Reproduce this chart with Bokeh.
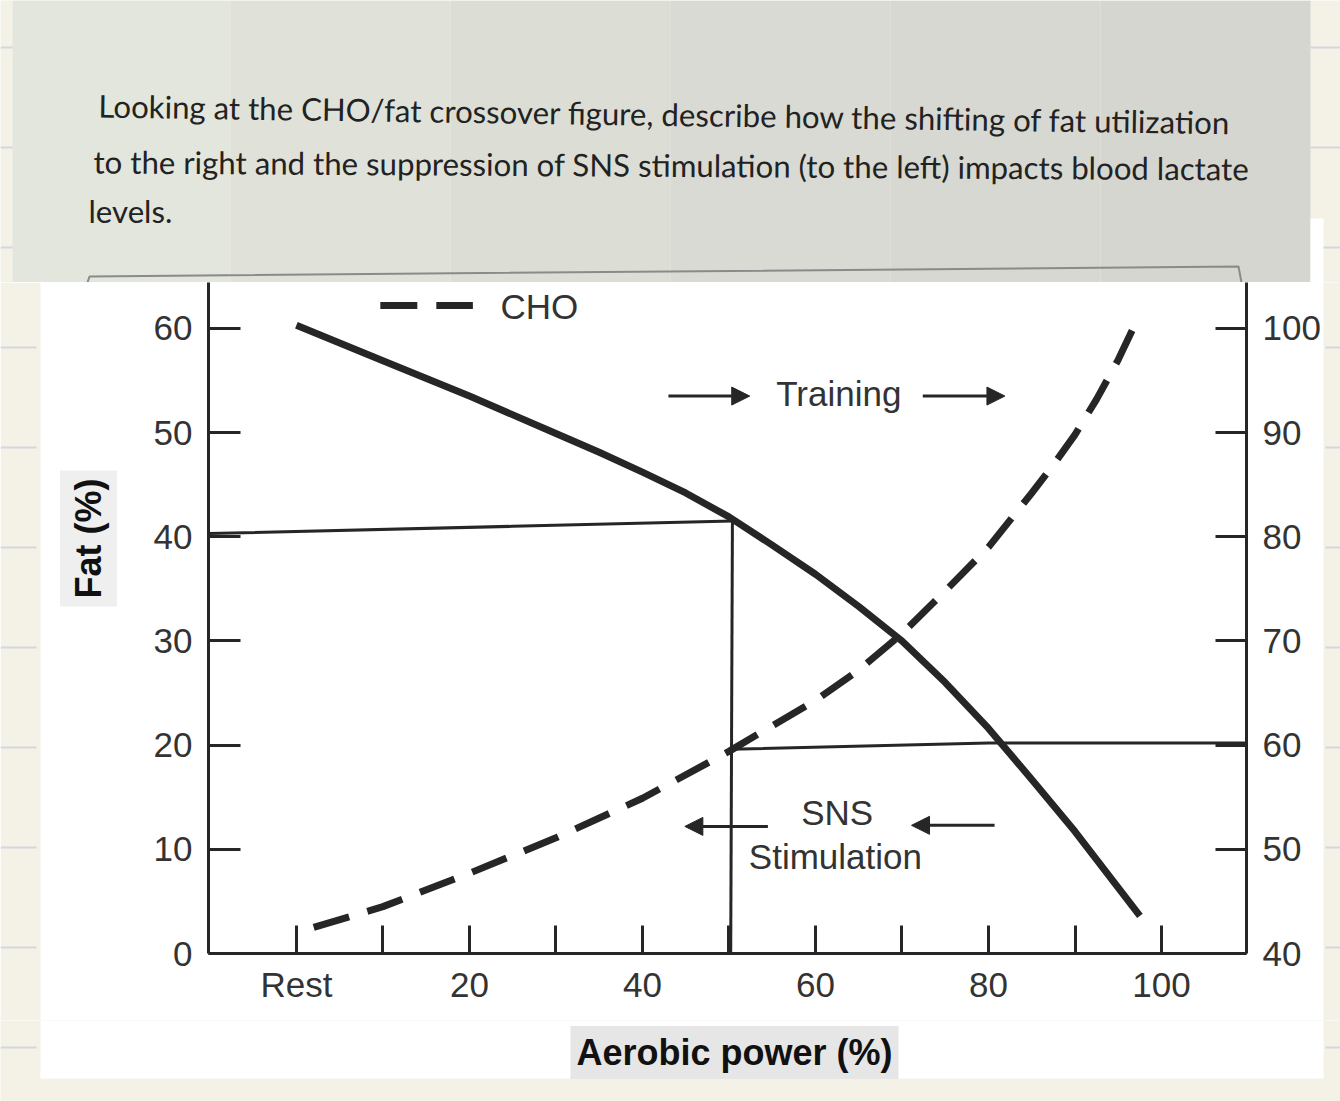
import math
from bokeh.plotting import figure
from bokeh.models import Range1d, LinearAxis, FixedTicker, Label, Arrow, NormalHead
from bokeh.layouts import column, row
from bokeh.embed import file_html
from bokeh.resources import INLINE

# ---------------- data ----------------
question_lines = [
    "Looking at the CHO/fat crossover figure, describe how the shifting of fat utilization",
    "to the right and the suppression of SNS stimulation (to the left) impacts blood lactate",
    "levels.",
]
x_title = "Aerobic power (%)"
y_title = "Fat (%)"
y2_title = "CHO"

power_ticks = [0, 20, 40, 60, 80, 100]
power_minor_ticks = [10, 30, 50, 70, 90]
power_tick_labels = {0: "Rest"}
fat_ticks = [0, 10, 20, 30, 40, 50, 60]
cho_ticks = [40, 50, 60, 70, 80, 90, 100]

# Fat (%) curve, solid, left axis
fat_power = [0, 10, 20, 30, 35, 40, 45, 50, 55, 60, 65, 70, 75, 80, 85, 90, 97.5]
fat_pct = [60.3, 56.9, 53.5, 49.9, 48.1, 46.2, 44.2, 41.9, 39.2, 36.4, 33.3, 30.0, 26.0, 21.6, 16.7, 11.7, 3.6]

# CHO (%) curve, dashed, right axis
cho_power = [2, 10, 20, 30, 40, 50, 60, 65, 70, 75, 80, 85, 87.5, 90, 92.5, 95, 97]
cho_pct = [42.5, 44.5, 47.7, 51.1, 54.9, 59.4, 64.3, 67.2, 70.7, 74.8, 79.0, 84.2, 86.9, 89.8, 93.2, 97.0, 100.5]

# hand-drawn guide lines (power %, fat %)
guide_upper_power = [-10.16, 25, 50.4]
guide_upper_fat = [40.3, 41.0, 41.5]
guide_vert_power = [50.4, 50.2]
guide_vert_fat = [41.6, 0]
guide_lower_power = [50.2, 80, 109.82]
guide_lower_fat = [19.6, 20.2, 20.2]

INK = "#262626"
TXT = "#333333"
CREAM = "#f4f2e7"
LINE_NB = "#d3d8df"
FONT = "Liberation Sans"


def panel(w, h, x0, x1, y0, y1, bg=CREAM):
    f = figure(width=w, height=h, x_range=Range1d(x0, x1), y_range=Range1d(y1, y0),
               output_backend="svg", toolbar_location=None, min_border=0,
               x_axis_location=None, y_axis_location=None, outline_line_color=None,
               background_fill_color=bg, border_fill_color=bg, frame_align=False)
    f.grid.visible = False
    return f


# ---------------- top: question panel (page y 0-282) ----------------
top = panel(1340, 282, 0, 1340, 0, 282)
bands = ["#e3e6dd", "#e0e2da", "#dcded6", "#d9dad3", "#d7d8d1", "#d6d6d0"]
edges = [12, 230, 450, 670, 890, 1100, 1310]
top.quad(left=edges[:-1], right=edges[1:], top=[0] * 6, bottom=[282] * 6,
         fill_color=bands, line_color=None)
top.quad(left=[1310], right=[1323], top=[218], bottom=[282], fill_color="white", line_color=None)
top.segment(x0=[0, 0, 0, 1310, 1310, 1323], x1=[12, 12, 12, 1340, 1340, 1340],
            y0=[47, 147, 247, 47, 147, 247], y1=[47, 147, 247, 47, 147, 247],
            line_color=LINE_NB, line_width=2)
top.line([87, 89, 1238, 1241], [282, 276, 266, 282], line_color="#8a8a8a", line_width=2)
q_pos = [(98, 105, 0.0149), (93, 161, 0.006), (88, 210, 0.0)]
for (qx, qy, qa), txt in zip(q_pos, question_lines):
    top.add_layout(Label(x=qx, y=qy, text=txt, angle=-qa, text_font="Lato",
                         text_font_size="31.2px", text_color="#222222",
                         text_align="left", text_baseline="middle"))

# ---------------- left panel (page x 0-140, y 282-1020) ----------------
nb_lines = [347, 447, 547, 647, 747, 847, 947]
leftp = panel(140, 738, 0, 140, 282, 1020, bg="white")
leftp.quad(left=[0], right=[40], top=[282], bottom=[1020], fill_color=CREAM, line_color=None)
leftp.segment(x0=[0] * 7, x1=[36] * 7, y0=nb_lines, y1=nb_lines, line_color=LINE_NB, line_width=2)
leftp.add_layout(Label(x=88, y=538, text=y_title, angle=math.pi / 2, text_font=FONT,
                       text_font_size="36px", text_font_style="bold", text_color="#111111",
                       text_align="center", text_baseline="middle",
                       background_fill_color="#efefef", padding=8))

# ---------------- right strip (page x 1323-1340) ----------------
rightp = panel(17, 738, 1323, 1340, 282, 1020)
rightp.segment(x0=[1325] * 7, x1=[1340] * 7, y0=nb_lines, y1=nb_lines, line_color=LINE_NB, line_width=2)

# ---------------- bottom panel (page y 1020-1101) ----------------
bottomp = panel(1340, 81, 0, 1340, 1020, 1101)
bottomp.quad(left=[40], right=[1323], top=[1020], bottom=[1078], fill_color="white", line_color=None)
bottomp.segment(x0=[0, 1325], x1=[36, 1340], y0=[1047, 1047], y1=[1047, 1047],
                line_color=LINE_NB, line_width=2)
bottomp.add_layout(Label(x=734, y=1052, text=x_title, text_font=FONT,
                         text_font_size="36px", text_font_style="bold", text_color="#111111",
                         text_align="center", text_baseline="middle",
                         background_fill_color="#e6e6e6", padding=6))

# ---------------- chart (page x 140-1323, y 282-1020) ----------------
p = figure(width=1183, height=738, output_backend="svg", toolbar_location=None,
           x_range=Range1d(-10.16, 109.82), y_range=Range1d(0, 64.4),
           min_border_left=68, min_border_right=76, min_border_top=0, min_border_bottom=67,
           background_fill_color="white", border_fill_color="white", outline_line_color=None,
           x_axis_location=None, y_axis_location=None, frame_align=False)
p.grid.visible = False
p.extra_y_ranges = {"cho": Range1d(40, 104.4)}


def style(ax, tick_in, standoff):
    ax.axis_line_color = INK
    ax.axis_line_width = 3
    ax.major_tick_line_color = INK
    ax.major_tick_line_width = 3
    ax.major_tick_in = tick_in
    ax.major_tick_out = 0
    ax.minor_tick_line_color = None
    ax.major_label_standoff = standoff
    ax.major_label_text_font = FONT
    ax.major_label_text_font_size = "35px"
    ax.major_label_text_color = TXT


xax = LinearAxis(ticker=FixedTicker(ticks=power_ticks, minor_ticks=power_minor_ticks))
style(xax, 28, 11)
xax.minor_tick_line_color = INK
xax.minor_tick_line_width = 3
xax.minor_tick_in = 28
xax.minor_tick_out = 0
xax.major_label_overrides = power_tick_labels
p.add_layout(xax, "below")

lax = LinearAxis(ticker=FixedTicker(ticks=fat_ticks))
style(lax, 32, 16)
p.add_layout(lax, "left")

rax = LinearAxis(y_range_name="cho", ticker=FixedTicker(ticks=cho_ticks))
style(rax, 31, 16)
p.add_layout(rax, "right")

# guide lines
p.line(guide_upper_power, guide_upper_fat, line_color=INK, line_width=3)
p.line(guide_vert_power, guide_vert_fat, line_color=INK, line_width=3)
p.line(guide_lower_power, guide_lower_fat, line_color=INK, line_width=3)

# curves
p.line(fat_power, fat_pct, line_color=INK, line_width=7, line_cap="butt", line_join="round")
p.line(cho_power, cho_pct, y_range_name="cho", line_color=INK, line_width=7,
       line_dash="37 19", line_cap="butt", line_join="round")

# legend key for CHO
p.line([9.7, 20.4], [62.2, 62.2], line_color=INK, line_width=7, line_dash="37 19")
p.add_layout(Label(x=23.6, y=62.1, text=y2_title, text_font=FONT, text_font_size="35px",
                   text_color=TXT, text_align="left", text_baseline="middle"))


def arrow(xs, xe, y):
    p.add_layout(Arrow(end=NormalHead(size=18, fill_color=INK, line_color=INK, line_width=1),
                       x_start=xs, y_start=y, x_end=xe, y_end=y,
                       line_color=INK, line_width=3))


arrow(43.0, 52.4, 53.5)
arrow(72.4, 81.9, 53.5)
arrow(54.5, 44.9, 12.2)
arrow(80.7, 71.1, 12.3)

for tx, ty, tt in [(62.7, 53.7, "Training"), (62.5, 13.5, "SNS"), (62.3, 9.3, "Stimulation")]:
    p.add_layout(Label(x=tx, y=ty, text=tt, text_font=FONT, text_font_size="35px",
                       text_color=TXT, text_align="center", text_baseline="middle"))

layout = column(top, row(leftp, p, rightp), bottomp)
open("out.html", "w").write(file_html(layout, INLINE))
